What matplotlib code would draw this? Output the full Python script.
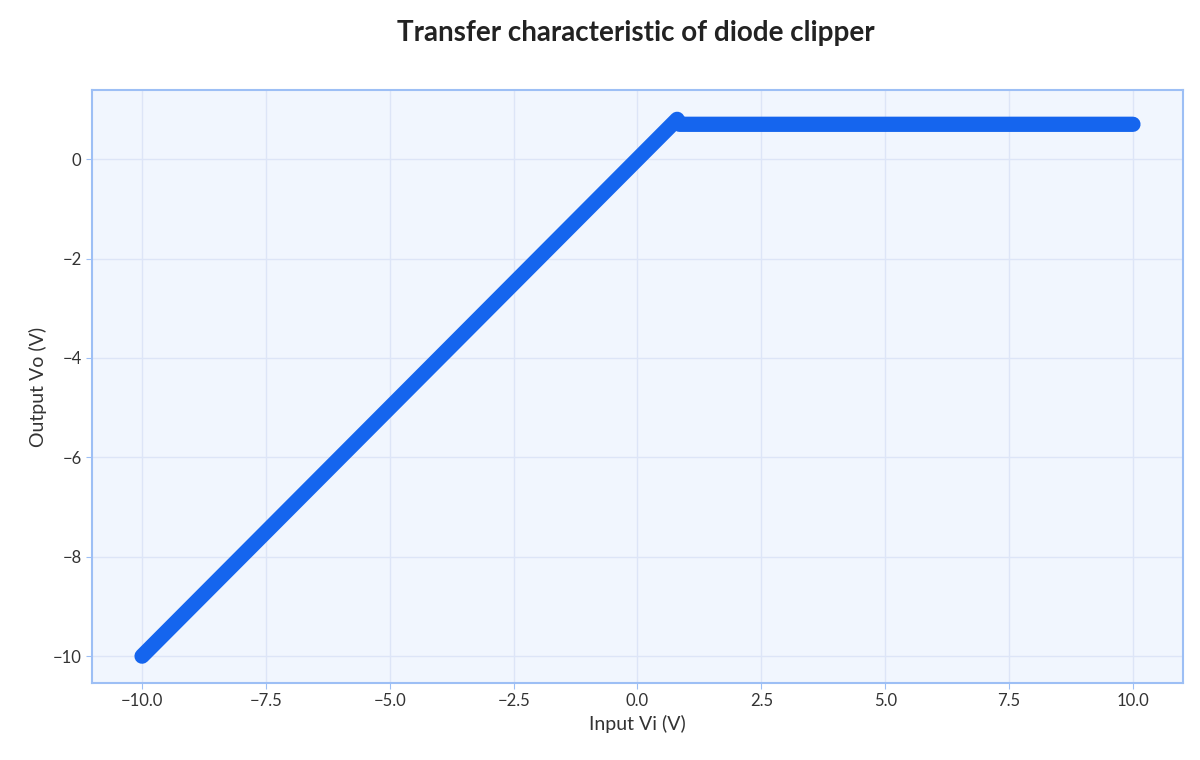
import matplotlib
matplotlib.use("Agg")
import matplotlib.pyplot as plt

vi = [-10.0, 0.8, 0.85, 10.0]
vo = [-10.0, 0.8, 0.7, 0.7]
xticks = [-10.0, -7.5, -5.0, -2.5, 0.0, 2.5, 5.0, 7.5, 10.0]
yticks = [0, -2, -4, -6, -8, -10]

plt.rcParams['font.family'] = ['Lato', 'DejaVu Sans']
fig = plt.figure(figsize=(12, 7.6), dpi=100)
ax = fig.add_axes([92/1200, 1-683/760, (1183-92)/1200, (683-90)/760])
ax.set_facecolor('#f1f6fe')
ax.plot(vi, vo, color='#1565ee', lw=11, solid_capstyle='round', solid_joinstyle='round')
ax.set_xlim(-11.01, 11.01)
ax.set_ylim(-10.54, 1.39)
ax.set_xticks(xticks)
ax.set_xticklabels([f"{t:.1f}".replace('-', '−') for t in xticks])
ax.set_yticks(yticks)
ax.set_yticklabels([str(t).replace('-', '−') for t in yticks])
ax.grid(True, color='#dde5f7', lw=1)
ax.set_axisbelow(True)
for s in ax.spines.values():
    s.set_color('#9dbff5'); s.set_linewidth(1.5)
ax.tick_params(colors='#333333', labelsize=12, length=4)
ax.tick_params(axis='both', color='#9dbff5')
ax.set_xlabel('Input Vi (V)', fontsize=14, color='#333333')
ax.set_ylabel('Output Vo (V)', fontsize=14, color='#333333')
fig.text(0.53, 0.957, 'Transfer characteristic of diode clipper', ha='center', va='center',
         fontsize=20, fontweight='bold', color='#222222')
fig.savefig('out.png')
